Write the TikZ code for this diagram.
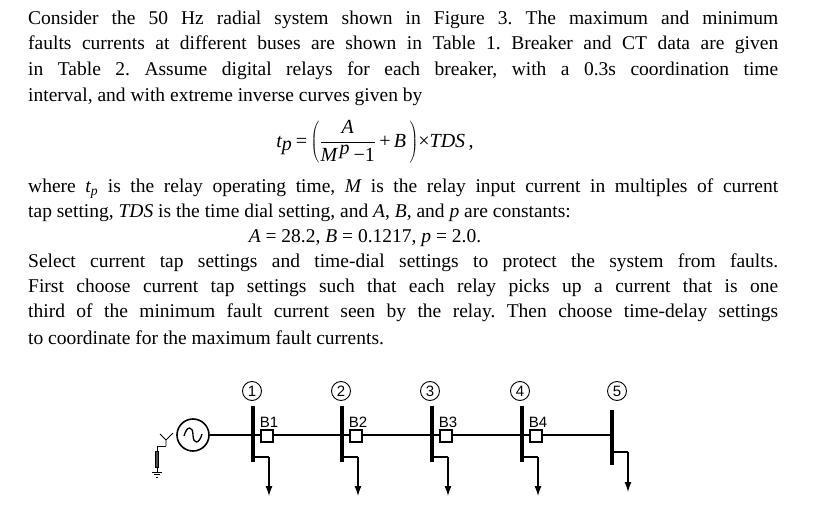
\documentclass[tikz,border=0pt]{standalone}
\usepackage{fontspec}
\setmainfont{Liberation Serif}
\setsansfont{Liberation Sans}
\usetikzlibrary{arrows.meta}
\newcommand{\vi}[1]{\mbox{\itshape #1}}
\newcommand{\vu}[1]{\mbox{\upshape #1}}
\frenchspacing
\begin{document}
\begin{tikzpicture}[x=1pt,y=-1pt,
  txt/.style={anchor=west,inner sep=0,font=\fontsize{19.5}{22}\selectfont},
  bus/.style={line width=3.5pt},
  wire/.style={line width=1.3pt},
  brk/.style={draw,line width=1.4pt,fill=white,minimum size=12pt,inner sep=0},
  num/.style={draw,circle,line width=0.9pt,inner sep=0,minimum size=19pt,font=\sffamily\fontsize{15}{15}\selectfont},
  blab/.style={font=\sffamily\fontsize{15}{15}\selectfont,inner sep=0}]
\useasboundingbox (0,0) rectangle (814,516);
\node[txt] (t1) at (28,20) {\makebox[750pt][s]{Consider the 50 Hz radial system shown in Figure 3. The maximum and minimum}};
\node[txt] (t2) at (28,45) {\makebox[750pt][s]{faults currents at different buses are shown in Table 1. Breaker and CT data are given}};
\node[txt] (t3) at (28,71) {\makebox[750pt][s]{in Table 2. Assume digital relays for each breaker, with a 0.3s coordination time}};
\node[txt] (t4) at (28,97) {interval, and with extreme inverse curves given by};
\node[inner sep=0,font=\fontsize{20}{22}\selectfont] (eq) at (375,142) {$\displaystyle \vi{t}_{\vi{p}}\,\vu{=}\left(\frac{\vi{A}}{\vi{M}^{\,\vi{p}}\vu{\,−1}}\vu{\,+\,}\vi{B}\,\right)\!\vu{×}\vi{TDS}\vu{\,,}$};
\node[txt] (t5) at (28,189) {\makebox[750pt][s]{where \vi{t}\textsubscript{\vi{p}} is the relay operating time, \vi{M} is the relay input current in multiples of current}};
\node[txt] (t6) at (28,213) {tap setting, \vi{TDS} is the time dial setting, and \vi{A}, \vi{B}, and \vi{p} are constants:};
\node[inner sep=0,font=\fontsize{19.5}{22}\selectfont] (eq2) at (365,238) {\vi{A} = 28.2, \vi{B} = 0.1217, \vi{p} = 2.0.};
\node[txt] (t7) at (28,263) {\makebox[750pt][s]{Select current tap settings and time-dial settings to protect the system from faults.}};
\node[txt] (t8) at (28,288) {\makebox[750pt][s]{First choose current tap settings such that each relay picks up a current that is one}};
\node[txt] (t9) at (28,313) {\makebox[750pt][s]{third of the minimum fault current seen by the relay. Then choose time-delay settings}};
\node[txt] (t10) at (28,338) {to coordinate for the maximum fault currents.};
% diagram
\node[draw,circle,line width=1.6pt,minimum size=32pt,inner sep=0] (gen) at (193,435) {};
\draw[line width=1.3pt] (184,436) .. controls (187,425) and (193,426) .. (193,435) .. controls (193,444) and (199,445) .. (202,434);
\coordinate (b5) at (612,435);
\draw[wire] (gen.east) -- (b5);
\foreach \i/\x/\lx in {1/253/252,2/342/341,3/432/430,4/522/520}{
  \coordinate (bt\i) at (\x,406); \coordinate (bb\i) at (\x,462);
  \draw[bus] (bt\i) -- (bb\i);
  \node[num] (n\i) at (\lx,391) {\i};
  \node[brk] (br\i) at (\x+14,436) {};
  \node[blab,anchor=south] (bl\i) at (\x+16,428) {B\i};
  \coordinate (lt\i) at (\x+16,457);
  \coordinate (la\i) at (\x+16,496);
  \draw[wire] (\x,457) -- (lt\i);
  \draw[wire,-{Latex[length=10pt,width=7pt]}] (lt\i) -- (la\i);
}
\draw[bus] (612,410) -- (612,465);
\node[num] (n5) at (617,391) {5};
\coordinate (lt5) at (628,452); \coordinate (la5) at (628,492);
\draw[wire] (612,452) -- (lt5);
\draw[wire,-{Latex[length=10pt,width=7pt]}] (lt5) -- (la5);
% grounded wye
\coordinate (yc) at (166,440);
\draw[line width=0.9pt] (yc) -- (160,434) (yc) -- (173,433) (yc) -- (166,446);
\draw[line width=0.9pt] (166,446) -- (157,446) -- (157,451);
\draw[line width=0.8pt,fill=black!70] (155.5,451) rectangle (158.5,467);
\draw[line width=0.8pt] (157,467) -- (157,472) (152,472) -- (162,472) (154,474.5) -- (160,474.5) (156,477) -- (158,477);
\end{tikzpicture}
\end{document}
